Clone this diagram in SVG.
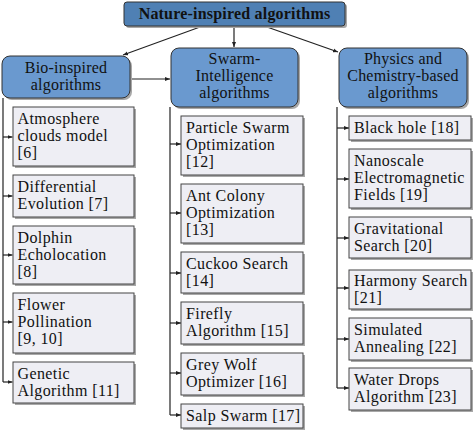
<svg xmlns="http://www.w3.org/2000/svg" width="474" height="432" viewBox="0 0 474 432">
<style>
text{font-family:"Liberation Serif","Times New Roman",serif;font-size:16px;fill:#111;letter-spacing:0.4px}
.title{font-weight:bold;text-anchor:middle;letter-spacing:0.2px}
.hd{text-anchor:middle;letter-spacing:0.2px}
.top{fill:#4f80b4;stroke:#333;stroke-width:1}
.head{fill:#6a99cf;stroke:#333;stroke-width:1}
.box{fill:#eeeef4;stroke:#444;stroke-width:1}
.sh{fill:#a8a8a8}
.ln{stroke:#222;stroke-width:1.2;fill:none}
.ar{stroke:#222;stroke-width:1.2;fill:none;marker-end:url(#ah)}
</style>
<defs>
<marker id="ah" viewBox="0 0 10 10" refX="10" refY="5" markerWidth="5" markerHeight="5" orient="auto" markerUnits="userSpaceOnUse">
<path d="M0,1 L10,5 L0,9 z" fill="#222"/>
</marker>
</defs>
<rect width="474" height="432" fill="#fff"/>
<g id="connectors">
<line class="ar" x1="200" y1="27" x2="123" y2="55"/>
<line class="ar" x1="234" y1="27" x2="234" y2="47"/>
<line class="ar" x1="267" y1="27" x2="338" y2="52"/>
<line class="ar" x1="130" y1="79" x2="170" y2="79"/>
<path class="ln" d="M3,98 V382"/>
<line class="ar" x1="3" y1="137" x2="12.5" y2="137"/>
<line class="ar" x1="3" y1="196" x2="12.5" y2="196"/>
<line class="ar" x1="3" y1="255" x2="12.5" y2="255"/>
<line class="ar" x1="3" y1="322" x2="12.5" y2="322"/>
<line class="ar" x1="3" y1="382" x2="12.5" y2="382"/>
<path class="ln" d="M170,107 V415"/>
<line class="ar" x1="170" y1="144" x2="181" y2="144"/>
<line class="ar" x1="170" y1="213" x2="181" y2="213"/>
<line class="ar" x1="170" y1="273" x2="181" y2="273"/>
<line class="ar" x1="170" y1="323" x2="181" y2="323"/>
<line class="ar" x1="170" y1="373" x2="181" y2="373"/>
<line class="ar" x1="170" y1="415" x2="181" y2="415"/>
<path class="ln" d="M337,107 V388"/>
<line class="ar" x1="337" y1="128" x2="349" y2="128"/>
<line class="ar" x1="337" y1="179" x2="349" y2="179"/>
<line class="ar" x1="337" y1="238" x2="349" y2="238"/>
<line class="ar" x1="337" y1="288" x2="349" y2="288"/>
<line class="ar" x1="337" y1="339" x2="349" y2="339"/>
<line class="ar" x1="337" y1="388" x2="349" y2="388"/>
</g>
<g id="nature">
<rect class="sh" x="126" y="4" width="221" height="24" rx="3"/>
<rect class="top" x="124" y="2" width="221" height="24" rx="3"/>
<text class="title" x="234.5" y="19">Nature-inspired algorithms</text>
</g>
<g id="bio">
<rect class="sh" x="4" y="58" width="128" height="42" rx="8"/>
<rect class="head" x="2" y="56" width="128" height="42" rx="8"/>
<text class="hd" x="66" y="73">Bio-inspired</text>
<text class="hd" x="66" y="90">algorithms</text>
</g>
<g id="swarm">
<rect class="sh" x="173" y="50" width="127" height="59" rx="8"/>
<rect class="head" x="171" y="48" width="127" height="59" rx="8"/>
<text class="hd" x="234.5" y="64">Swarm-</text>
<text class="hd" x="234.5" y="81">Intelligence</text>
<text class="hd" x="234.5" y="98">algorithms</text>
</g>
<g id="physics">
<rect class="sh" x="341" y="50" width="128" height="59" rx="8"/>
<rect class="head" x="339" y="48" width="128" height="59" rx="8"/>
<text class="hd" x="403" y="64">Physics and</text>
<text class="hd" x="403" y="81">Chemistry-based</text>
<text class="hd" x="403" y="98">algorithms</text>
</g>
<g id="atmosphere">
<rect class="sh" x="15" y="109" width="121" height="59"/>
<rect class="box" x="13" y="107" width="121" height="59"/>
<text x="17.5" y="124">Atmosphere</text>
<text x="17.5" y="141">clouds model</text>
<text x="17.5" y="158">[6]</text>
</g>
<g id="differential">
<rect class="sh" x="15" y="177" width="121" height="42"/>
<rect class="box" x="13" y="175" width="121" height="42"/>
<text x="17.5" y="192">Differential</text>
<text x="17.5" y="209">Evolution [7]</text>
</g>
<g id="dolphin">
<rect class="sh" x="15" y="228" width="121" height="58"/>
<rect class="box" x="13" y="226" width="121" height="58"/>
<text x="17.5" y="243">Dolphin</text>
<text x="17.5" y="260">Echolocation</text>
<text x="17.5" y="277">[8]</text>
</g>
<g id="flower">
<rect class="sh" x="15" y="295" width="121" height="60"/>
<rect class="box" x="13" y="293" width="121" height="60"/>
<text x="17.5" y="310">Flower</text>
<text x="17.5" y="327">Pollination</text>
<text x="17.5" y="344">[9, 10]</text>
</g>
<g id="genetic">
<rect class="sh" x="15" y="364" width="121" height="41"/>
<rect class="box" x="13" y="362" width="121" height="41"/>
<text x="17.5" y="379">Genetic</text>
<text x="17.5" y="396">Algorithm [11]</text>
</g>
<g id="particle">
<rect class="sh" x="183" y="118" width="122" height="59"/>
<rect class="box" x="181" y="116" width="122" height="59"/>
<text x="186" y="133">Particle Swarm</text>
<text x="186" y="150">Optimization</text>
<text x="186" y="167">[12]</text>
</g>
<g id="ant">
<rect class="sh" x="183" y="186" width="122" height="59"/>
<rect class="box" x="181" y="184" width="122" height="59"/>
<text x="186" y="201">Ant Colony</text>
<text x="186" y="218">Optimization</text>
<text x="186" y="235">[13]</text>
</g>
<g id="cuckoo">
<rect class="sh" x="183" y="254" width="122" height="41"/>
<rect class="box" x="181" y="252" width="122" height="41"/>
<text x="186" y="269">Cuckoo Search</text>
<text x="186" y="286">[14]</text>
</g>
<g id="firefly">
<rect class="sh" x="183" y="304" width="122" height="42"/>
<rect class="box" x="181" y="302" width="122" height="42"/>
<text x="186" y="319">Firefly</text>
<text x="186" y="336">Algorithm [15]</text>
</g>
<g id="greywolf">
<rect class="sh" x="183" y="355" width="122" height="42"/>
<rect class="box" x="181" y="353" width="122" height="42"/>
<text x="186" y="370">Grey Wolf</text>
<text x="186" y="387">Optimizer [16]</text>
</g>
<g id="salp">
<rect class="sh" x="183" y="406" width="122" height="24"/>
<rect class="box" x="181" y="404" width="122" height="24"/>
<text x="186" y="421">Salp Swarm [17]</text>
</g>
<g id="blackhole">
<rect class="sh" x="351" y="118" width="122" height="24"/>
<rect class="box" x="349" y="116" width="122" height="24"/>
<text x="354" y="133">Black hole [18]</text>
</g>
<g id="nanoscale">
<rect class="sh" x="351" y="151" width="122" height="59"/>
<rect class="box" x="349" y="149" width="122" height="59"/>
<text x="354" y="166">Nanoscale</text>
<text x="354" y="183">Electromagnetic</text>
<text x="354" y="200">Fields [19]</text>
</g>
<g id="gravitational">
<rect class="sh" x="351" y="219" width="122" height="41"/>
<rect class="box" x="349" y="217" width="122" height="41"/>
<text x="354" y="234">Gravitational</text>
<text x="354" y="251">Search [20]</text>
</g>
<g id="harmony">
<rect class="sh" x="351" y="272" width="122" height="39"/>
<rect class="box" x="349" y="270" width="122" height="39"/>
<text x="354" y="286">Harmony Search</text>
<text x="354" y="303">[21]</text>
</g>
<g id="simulated">
<rect class="sh" x="351" y="320" width="122" height="42"/>
<rect class="box" x="349" y="318" width="122" height="42"/>
<text x="354" y="335">Simulated</text>
<text x="354" y="352">Annealing [22]</text>
</g>
<g id="waterdrops">
<rect class="sh" x="351" y="370" width="122" height="42"/>
<rect class="box" x="349" y="368" width="122" height="42"/>
<text x="354" y="385">Water Drops</text>
<text x="354" y="402">Algorithm [23]</text>
</g>
</svg>
